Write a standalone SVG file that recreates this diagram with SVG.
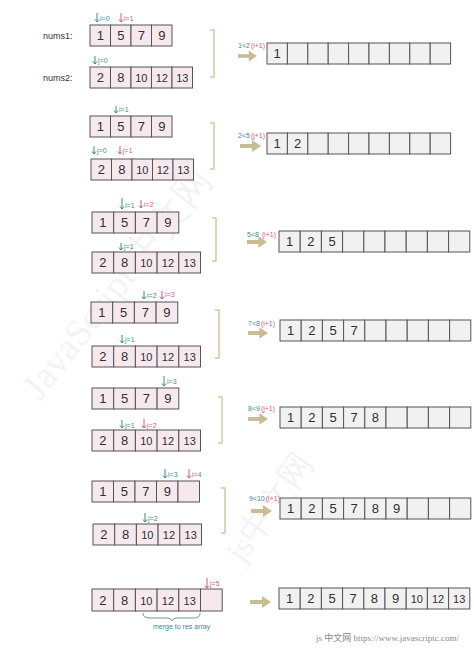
<svg xmlns="http://www.w3.org/2000/svg" width="474" height="660" viewBox="0 0 474 660">
<style>
.bg{fill:#ffffff}
.c{fill:#f6e9ed;stroke:#555;stroke-width:1}
.r{fill:#f1f1f1;stroke:#555;stroke-width:1}
.n{font-family:"Liberation Sans",Arial,sans-serif;font-size:13px;fill:#2f2f2f;text-anchor:middle}
.s{font-size:11px}
.lbl{font-family:"Liberation Sans",Arial,sans-serif;font-size:9px;fill:#333}
.pt{fill:none;stroke-width:1}
.teal{fill:#3d8c8c;stroke:#3d8c8c}
.pink{fill:#d05a7c;stroke:#d05a7c}
.ptx{font-family:"Liberation Sans",Arial,sans-serif;font-size:7px;stroke:none}
.cmp{font-family:"Liberation Sans",Arial,sans-serif;font-size:7px}
.tt{fill:#3d8c8c}
.pk{fill:#d05a7c}
.br{fill:none;stroke:#d8c7a2;stroke-width:1.5}
.ar{fill:#c9bb92;stroke:none}
.wm{font-family:"Liberation Serif",serif;fill:#000;opacity:0.045}
.ft{font-family:"Liberation Serif","Noto Sans CJK SC",serif;font-size:9px;fill:#8a8a8a}
</style>
<defs>
<path id="arrow" d="M0,-2 H12 V-6 L21,0 L12,6 V2 H0 Z"/>
</defs>
<rect class="bg" x="0" y="0" width="474" height="660"/>
<text class="wm" font-size="38" transform="translate(40,402) rotate(-52)">JavaScript 中文网</text>
<text class="wm" font-size="34" transform="translate(243,565) rotate(-55)">js中文网</text>

<text class="lbl" x="43" y="39">nums1:</text>
<text class="lbl" x="43" y="81">nums2:</text>

<!-- Row 1 -->
<g id="r1-nums1" transform="translate(90,25)">
<rect class="c" x="0" y="0" width="20.5" height="21"/><rect class="c" x="20.5" y="0" width="20.5" height="21"/><rect class="c" x="41" y="0" width="20.5" height="21"/><rect class="c" x="61.5" y="0" width="20.5" height="21"/>
<text class="n" x="10.25" y="15">1</text><text class="n" x="30.75" y="15">5</text><text class="n" x="51.25" y="15">7</text><text class="n" x="71.75" y="15">9</text>
</g>
<g id="r1-nums2" transform="translate(90,67)">
<rect class="c" x="0" y="0" width="20.5" height="21"/><rect class="c" x="20.5" y="0" width="20.5" height="21"/><rect class="c" x="41" y="0" width="20.5" height="21"/><rect class="c" x="61.5" y="0" width="20.5" height="21"/><rect class="c" x="82" y="0" width="20.5" height="21"/>
<text class="n" x="10.25" y="15">2</text><text class="n" x="30.75" y="15">8</text><text class="n s" x="51.25" y="15">10</text><text class="n s" x="71.75" y="15">12</text><text class="n s" x="92.25" y="15">13</text>
</g>
<g id="r1-res" transform="translate(267,43)">
<rect class="r" x="0" y="0" width="20.4" height="21"/><rect class="r" x="20.4" y="0" width="20.4" height="21"/><rect class="r" x="40.8" y="0" width="20.4" height="21"/><rect class="r" x="61.2" y="0" width="20.4" height="21"/><rect class="r" x="81.6" y="0" width="20.4" height="21"/><rect class="r" x="102" y="0" width="20.4" height="21"/><rect class="r" x="122.4" y="0" width="20.4" height="21"/><rect class="r" x="142.8" y="0" width="20.4" height="21"/><rect class="r" x="163.2" y="0" width="20.4" height="21"/>
<text class="n" x="10.2" y="15">1</text>
</g>

<!-- Row 2 -->
<g id="r2-nums1" transform="translate(90,116)">
<rect class="c" x="0" y="0" width="20.5" height="21"/><rect class="c" x="20.5" y="0" width="20.5" height="21"/><rect class="c" x="41" y="0" width="20.5" height="21"/><rect class="c" x="61.5" y="0" width="20.5" height="21"/>
<text class="n" x="10.25" y="15">1</text><text class="n" x="30.75" y="15">5</text><text class="n" x="51.25" y="15">7</text><text class="n" x="71.75" y="15">9</text>
</g>
<g id="r2-nums2" transform="translate(91,159)">
<rect class="c" x="0" y="0" width="20.5" height="21"/><rect class="c" x="20.5" y="0" width="20.5" height="21"/><rect class="c" x="41" y="0" width="20.5" height="21"/><rect class="c" x="61.5" y="0" width="20.5" height="21"/><rect class="c" x="82" y="0" width="20.5" height="21"/>
<text class="n" x="10.25" y="15">2</text><text class="n" x="30.75" y="15">8</text><text class="n s" x="51.25" y="15">10</text><text class="n s" x="71.75" y="15">12</text><text class="n s" x="92.25" y="15">13</text>
</g>
<g id="r2-res" transform="translate(267,133)">
<rect class="r" x="0" y="0" width="20.4" height="21"/><rect class="r" x="20.4" y="0" width="20.4" height="21"/><rect class="r" x="40.8" y="0" width="20.4" height="21"/><rect class="r" x="61.2" y="0" width="20.4" height="21"/><rect class="r" x="81.6" y="0" width="20.4" height="21"/><rect class="r" x="102" y="0" width="20.4" height="21"/><rect class="r" x="122.4" y="0" width="20.4" height="21"/><rect class="r" x="142.8" y="0" width="20.4" height="21"/><rect class="r" x="163.2" y="0" width="20.4" height="21"/>
<text class="n" x="10.2" y="15">1</text><text class="n" x="30.6" y="15">2</text>
</g>

<!-- Row 3 -->
<g id="r3-nums1" transform="translate(92,212)">
<rect class="c" x="0" y="0" width="21.7" height="21"/><rect class="c" x="21.7" y="0" width="21.7" height="21"/><rect class="c" x="43.4" y="0" width="21.7" height="21"/><rect class="c" x="65.1" y="0" width="21.7" height="21"/>
<text class="n" x="10.85" y="15">1</text><text class="n" x="32.55" y="15">5</text><text class="n" x="54.25" y="15">7</text><text class="n" x="75.95" y="15">9</text>
</g>
<g id="r3-nums2" transform="translate(92,252)">
<rect class="c" x="0" y="0" width="21.7" height="21"/><rect class="c" x="21.7" y="0" width="21.7" height="21"/><rect class="c" x="43.4" y="0" width="21.7" height="21"/><rect class="c" x="65.1" y="0" width="21.7" height="21"/><rect class="c" x="86.8" y="0" width="21.7" height="21"/>
<text class="n" x="10.85" y="15">2</text><text class="n" x="32.55" y="15">8</text><text class="n s" x="54.25" y="15">10</text><text class="n s" x="75.95" y="15">12</text><text class="n s" x="97.65" y="15">13</text>
</g>
<g id="r3-res" transform="translate(279,231)">
<rect class="r" x="0" y="0" width="21.2" height="21"/><rect class="r" x="21.2" y="0" width="21.2" height="21"/><rect class="r" x="42.4" y="0" width="21.2" height="21"/><rect class="r" x="63.6" y="0" width="21.2" height="21"/><rect class="r" x="84.8" y="0" width="21.2" height="21"/><rect class="r" x="106" y="0" width="21.2" height="21"/><rect class="r" x="127.2" y="0" width="21.2" height="21"/><rect class="r" x="148.4" y="0" width="21.2" height="21"/><rect class="r" x="169.6" y="0" width="21.2" height="21"/>
<text class="n" x="10.6" y="15">1</text><text class="n" x="31.8" y="15">2</text><text class="n" x="53" y="15">5</text>
</g>

<!-- Row 4 -->
<g id="r4-nums1" transform="translate(91,302)">
<rect class="c" x="0" y="0" width="21.7" height="21"/><rect class="c" x="21.7" y="0" width="21.7" height="21"/><rect class="c" x="43.4" y="0" width="21.7" height="21"/><rect class="c" x="65.1" y="0" width="21.7" height="21"/>
<text class="n" x="10.85" y="15">1</text><text class="n" x="32.55" y="15">5</text><text class="n" x="54.25" y="15">7</text><text class="n" x="75.95" y="15">9</text>
</g>
<g id="r4-nums2" transform="translate(92,346)">
<rect class="c" x="0" y="0" width="21.7" height="21"/><rect class="c" x="21.7" y="0" width="21.7" height="21"/><rect class="c" x="43.4" y="0" width="21.7" height="21"/><rect class="c" x="65.1" y="0" width="21.7" height="21"/><rect class="c" x="86.8" y="0" width="21.7" height="21"/>
<text class="n" x="10.85" y="15">2</text><text class="n" x="32.55" y="15">8</text><text class="n s" x="54.25" y="15">10</text><text class="n s" x="75.95" y="15">12</text><text class="n s" x="97.65" y="15">13</text>
</g>
<g id="r4-res" transform="translate(280,320)">
<rect class="r" x="0" y="0" width="21.2" height="21"/><rect class="r" x="21.2" y="0" width="21.2" height="21"/><rect class="r" x="42.4" y="0" width="21.2" height="21"/><rect class="r" x="63.6" y="0" width="21.2" height="21"/><rect class="r" x="84.8" y="0" width="21.2" height="21"/><rect class="r" x="106" y="0" width="21.2" height="21"/><rect class="r" x="127.2" y="0" width="21.2" height="21"/><rect class="r" x="148.4" y="0" width="21.2" height="21"/><rect class="r" x="169.6" y="0" width="21.2" height="21"/>
<text class="n" x="10.6" y="15">1</text><text class="n" x="31.8" y="15">2</text><text class="n" x="53" y="15">5</text><text class="n" x="74.2" y="15">7</text>
</g>

<!-- Row 5 -->
<g id="r5-nums1" transform="translate(92,388)">
<rect class="c" x="0" y="0" width="21.7" height="21"/><rect class="c" x="21.7" y="0" width="21.7" height="21"/><rect class="c" x="43.4" y="0" width="21.7" height="21"/><rect class="c" x="65.1" y="0" width="21.7" height="21"/>
<text class="n" x="10.85" y="15">1</text><text class="n" x="32.55" y="15">5</text><text class="n" x="54.25" y="15">7</text><text class="n" x="75.95" y="15">9</text>
</g>
<g id="r5-nums2" transform="translate(92,430)">
<rect class="c" x="0" y="0" width="21.7" height="21"/><rect class="c" x="21.7" y="0" width="21.7" height="21"/><rect class="c" x="43.4" y="0" width="21.7" height="21"/><rect class="c" x="65.1" y="0" width="21.7" height="21"/><rect class="c" x="86.8" y="0" width="21.7" height="21"/>
<text class="n" x="10.85" y="15">2</text><text class="n" x="32.55" y="15">8</text><text class="n s" x="54.25" y="15">10</text><text class="n s" x="75.95" y="15">12</text><text class="n s" x="97.65" y="15">13</text>
</g>
<g id="r5-res" transform="translate(280,407)">
<rect class="r" x="0" y="0" width="21.2" height="21"/><rect class="r" x="21.2" y="0" width="21.2" height="21"/><rect class="r" x="42.4" y="0" width="21.2" height="21"/><rect class="r" x="63.6" y="0" width="21.2" height="21"/><rect class="r" x="84.8" y="0" width="21.2" height="21"/><rect class="r" x="106" y="0" width="21.2" height="21"/><rect class="r" x="127.2" y="0" width="21.2" height="21"/><rect class="r" x="148.4" y="0" width="21.2" height="21"/><rect class="r" x="169.6" y="0" width="21.2" height="21"/>
<text class="n" x="10.6" y="15">1</text><text class="n" x="31.8" y="15">2</text><text class="n" x="53" y="15">5</text><text class="n" x="74.2" y="15">7</text><text class="n" x="95.4" y="15">8</text>
</g>

<!-- Row 6 -->
<g id="r6-nums1" transform="translate(92,481)">
<rect class="c" x="0" y="0" width="21.5" height="21"/><rect class="c" x="21.5" y="0" width="21.5" height="21"/><rect class="c" x="43" y="0" width="21.5" height="21"/><rect class="c" x="64.5" y="0" width="21.5" height="21"/><rect class="c" x="86" y="0" width="21.5" height="21"/>
<text class="n" x="10.75" y="15">1</text><text class="n" x="32.25" y="15">5</text><text class="n" x="53.75" y="15">7</text><text class="n" x="75.25" y="15">9</text>
</g>
<g id="r6-nums2" transform="translate(93,524)">
<rect class="c" x="0" y="0" width="21.7" height="21"/><rect class="c" x="21.7" y="0" width="21.7" height="21"/><rect class="c" x="43.4" y="0" width="21.7" height="21"/><rect class="c" x="65.1" y="0" width="21.7" height="21"/><rect class="c" x="86.8" y="0" width="21.7" height="21"/>
<text class="n" x="10.85" y="15">2</text><text class="n" x="32.55" y="15">8</text><text class="n s" x="54.25" y="15">10</text><text class="n s" x="75.95" y="15">12</text><text class="n s" x="97.65" y="15">13</text>
</g>
<g id="r6-res" transform="translate(280,498)">
<rect class="r" x="0" y="0" width="21.2" height="21"/><rect class="r" x="21.2" y="0" width="21.2" height="21"/><rect class="r" x="42.4" y="0" width="21.2" height="21"/><rect class="r" x="63.6" y="0" width="21.2" height="21"/><rect class="r" x="84.8" y="0" width="21.2" height="21"/><rect class="r" x="106" y="0" width="21.2" height="21"/><rect class="r" x="127.2" y="0" width="21.2" height="21"/><rect class="r" x="148.4" y="0" width="21.2" height="21"/><rect class="r" x="169.6" y="0" width="21.2" height="21"/>
<text class="n" x="10.6" y="15">1</text><text class="n" x="31.8" y="15">2</text><text class="n" x="53" y="15">5</text><text class="n" x="74.2" y="15">7</text><text class="n" x="95.4" y="15">8</text><text class="n" x="116.6" y="15">9</text>
</g>

<!-- Row 7 -->
<g id="r7-nums2" transform="translate(92,589)">
<rect class="c" x="0" y="0" width="21.7" height="22"/><rect class="c" x="21.7" y="0" width="21.7" height="22"/><rect class="c" x="43.4" y="0" width="21.7" height="22"/><rect class="c" x="65.1" y="0" width="21.7" height="22"/><rect class="c" x="86.8" y="0" width="21.7" height="22"/><rect class="c" x="108.5" y="0" width="21.7" height="22"/>
<text class="n" x="10.85" y="15.5">2</text><text class="n" x="32.55" y="15.5">8</text><text class="n s" x="54.25" y="15.5">10</text><text class="n s" x="75.95" y="15.5">12</text><text class="n s" x="97.65" y="15.5">13</text>
</g>
<g id="r7-res" transform="translate(279,588)">
<rect class="r" x="0" y="0" width="21.2" height="21"/><rect class="r" x="21.2" y="0" width="21.2" height="21"/><rect class="r" x="42.4" y="0" width="21.2" height="21"/><rect class="r" x="63.6" y="0" width="21.2" height="21"/><rect class="r" x="84.8" y="0" width="21.2" height="21"/><rect class="r" x="106" y="0" width="21.2" height="21"/><rect class="r" x="127.2" y="0" width="21.2" height="21"/><rect class="r" x="148.4" y="0" width="21.2" height="21"/><rect class="r" x="169.6" y="0" width="21.2" height="21"/>
<text class="n" x="10.6" y="15">1</text><text class="n" x="31.8" y="15">2</text><text class="n" x="53" y="15">5</text><text class="n" x="74.2" y="15">7</text><text class="n" x="95.4" y="15">8</text><text class="n" x="116.6" y="15">9</text><text class="n s" x="137.8" y="15">10</text><text class="n s" x="159" y="15">12</text><text class="n s" x="180.2" y="15">13</text>
</g>

<!-- pointers -->
<g id="pointers">
<g class="teal"><path class="pt" d="M97,13 V22 M95,19.5 L97,22 L99,19.5"/><text class="ptx" x="100" y="21">i=0</text></g>
<g class="pink"><path class="pt" d="M121,13 V22 M119,19.5 L121,22 L123,19.5"/><text class="ptx" x="124" y="21">i=1</text></g>
<g class="teal"><path class="pt" d="M95,56 V64 M93,61.5 L95,64 L97,61.5"/><text class="ptx" x="98" y="63">j=0</text></g>

<g class="teal"><path class="pt" d="M116,106 V113 M114,110.5 L116,113 L118,110.5"/><text class="ptx" x="119" y="112">i=1</text></g>
<g class="teal"><path class="pt" d="M94,146 V154 M92,151.5 L94,154 L96,151.5"/><text class="ptx" x="97" y="153">j=0</text></g>
<g class="pink"><path class="pt" d="M120,146 V154 M118,151.5 L120,154 L122,151.5"/><text class="ptx" x="123" y="153">j=1</text></g>

<g class="teal"><path class="pt" d="M122,198 V209 M120,206.5 L122,209 L124,206.5"/><text class="ptx" x="125" y="208">i=1</text></g>
<g class="pink"><path class="pt" d="M141,200 V208 M139,205.5 L141,208 L143,205.5"/><text class="ptx" x="144" y="207">i=2</text></g>
<g class="teal"><path class="pt" d="M121,243 V250 M119,247.5 L121,250 L123,247.5"/><text class="ptx" x="124" y="249">j=1</text></g>

<g class="teal"><path class="pt" d="M144,291 V299 M142,296.5 L144,299 L146,296.5"/><text class="ptx" x="147" y="298">i=2</text></g>
<g class="pink"><path class="pt" d="M162,291 V299 M160,296.5 L162,299 L164,296.5"/><text class="ptx" x="165" y="297">i=3</text></g>
<g class="teal"><path class="pt" d="M122,335 V343 M120,340.5 L122,343 L124,340.5"/><text class="ptx" x="125" y="342">j=1</text></g>

<g class="teal"><path class="pt" d="M164,376 V386 M162,383.5 L164,386 L166,383.5"/><text class="ptx" x="167" y="384" font-size="8">i=3</text></g>
<g class="teal"><path class="pt" d="M122,420 V428 M120,425.5 L122,428 L124,425.5"/><text class="ptx" x="125" y="428">j=1</text></g>
<g class="pink"><path class="pt" d="M144,419 V428 M142,425.5 L144,428 L146,425.5"/><text class="ptx" x="147" y="428" font-size="8">j=2</text></g>

<g class="teal"><path class="pt" d="M165,469 V478 M163,475.5 L165,478 L167,475.5"/><text class="ptx" x="168" y="477">i=3</text></g>
<g class="pink"><path class="pt" d="M189,469 V478 M187,475.5 L189,478 L191,475.5"/><text class="ptx" x="192" y="477">i=4</text></g>
<g class="teal"><path class="pt" d="M145,513 V522 M143,519.5 L145,522 L147,519.5"/><text class="ptx" x="148" y="521">j=2</text></g>

<g class="pink"><path class="pt" d="M207,578 V588 M205,585.5 L207,588 L209,585.5"/><text class="ptx" x="210" y="586">j=5</text></g>
</g>

<!-- connectors: brackets and arrows -->
<g id="connectors">
<path class="br" d="M210,30 H214 V77 H210"/>
<path class="br" d="M210,123 H214 V169 H210"/>
<path class="br" d="M212,218 H216 V261 H212"/>
<path class="br" d="M215,310 H219 V358 H215"/>
<path class="br" d="M218,397 H222 V443 H218"/>
<path class="br" d="M221,488 H225 V533 H221"/>
<use href="#arrow" class="ar" transform="translate(238,56) scale(0.9)"/>
<use href="#arrow" class="ar" transform="translate(240,146)"/>
<use href="#arrow" class="ar" transform="translate(247,242) scale(0.95)"/>
<use href="#arrow" class="ar" transform="translate(248,333) scale(0.95)"/>
<use href="#arrow" class="ar" transform="translate(248,419) scale(0.95)"/>
<use href="#arrow" class="ar" transform="translate(251,511)"/>
<use href="#arrow" class="ar" transform="translate(250,602)"/>
<path d="M143,613 Q143,618 150,618 H167 Q171,618 172,621 Q173,618 177,618 H194 Q200,618 200,613" fill="none" stroke="#6a9a9a" stroke-width="1"/>
</g>

<!-- comparison labels -->
<g id="labels">
<text class="cmp" x="238" y="48"><tspan class="tt">1&lt;2</tspan><tspan class="pk" dx="1">(i+1)</tspan></text>
<text class="cmp" x="238" y="138"><tspan class="tt">2&lt;5</tspan><tspan class="pk" dx="1">(j+1)</tspan></text>
<text class="cmp" x="247" y="237"><tspan class="tt">5&lt;8</tspan><tspan class="pk" dx="3">(i+1)</tspan></text>
<text class="cmp" x="248" y="326"><tspan class="tt">7&lt;8</tspan><tspan class="pk" dx="1">(i+1)</tspan></text>
<text class="cmp" x="248" y="411"><tspan class="tt">8&lt;9</tspan><tspan class="pk" dx="1">(j+1)</tspan></text>
<text class="cmp" x="249" y="501"><tspan class="tt">9&lt;10</tspan><tspan class="pk" dx="1">(i+1)</tspan></text>
<text class="cmp tt" x="153" y="629">merge to res array</text>
</g>

<text class="ft" x="316" y="641">js 中文网  https://www.javascriptc.com/</text>
</svg>
